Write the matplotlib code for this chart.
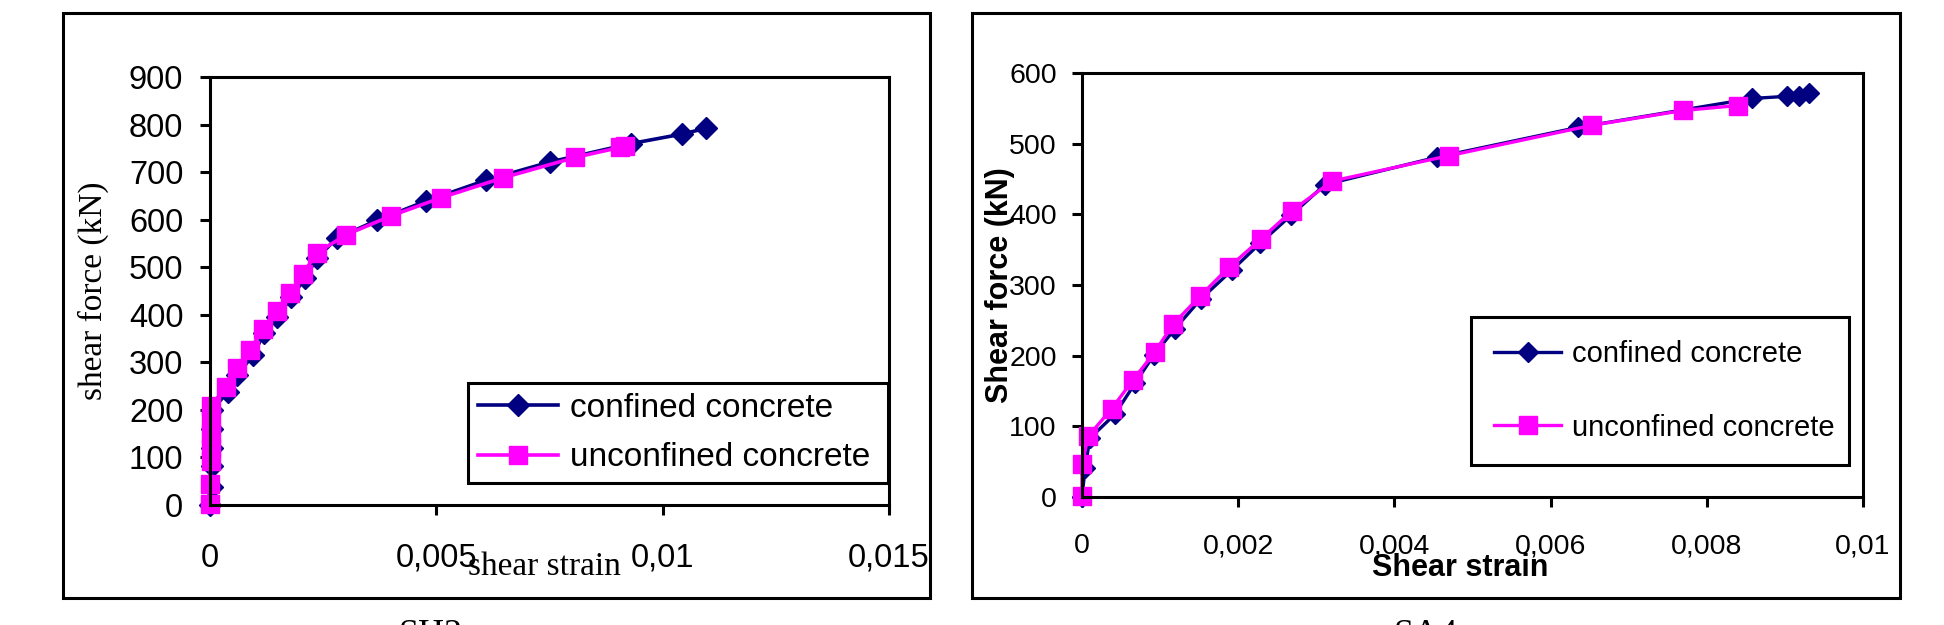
import matplotlib
matplotlib.use('Agg')
import matplotlib.pyplot as plt
from matplotlib.patches import Rectangle

####################################################################################################
# DATA
####################################################################################################

# SH2 - left chart
sh2_conf_strain = [0, 0.00004, 0.00004, 0.00004, 0.00004, 0.00004, 0.0004, 0.0006, 0.00095, 0.0012,
                   0.00148, 0.0018, 0.0021, 0.00236, 0.0028, 0.0037, 0.00477, 0.0061, 0.0075, 0.0093,
                   0.01043, 0.01095]
sh2_conf_force = [0, 38, 82, 120, 160, 200, 238, 273, 315, 362,
                  395, 437, 477, 519, 561, 599, 639, 683, 721, 760,
                  780, 792]
sh2_unconf_strain = [0, 0, 0.00002, 0.00002, 0.00002, 0.00002, 0.00002, 0.00035, 0.0006, 0.00088,
                     0.00117, 0.00148, 0.00177, 0.00205, 0.00236, 0.003, 0.004, 0.0051, 0.00647,
                     0.00807, 0.00906, 0.00917]
sh2_unconf_force = [3, 45, 92, 120, 150, 180, 208, 248, 288, 326,
                    370, 408, 446, 486, 530, 568, 608, 646, 688,
                    731, 752, 755]
sh2_xticks = [0, 0.005, 0.01, 0.015]
sh2_xlabels = ['0', '0,005', '0,01', '0,015']
sh2_yticks = [0, 100, 200, 300, 400, 500, 600, 700, 800, 900]

# SA4 - right chart
sa4_conf_strain = [0, 0.00004, 0.0001, 0.00042, 0.00068, 0.00092, 0.00119, 0.00152, 0.00192, 0.00228,
                   0.00268, 0.00311, 0.00455, 0.00635, 0.00858, 0.00903, 0.00918, 0.00931]
sa4_conf_force = [0, 41, 83, 117, 161, 201, 238, 280, 321, 359,
                  399, 442, 481, 523, 564, 567, 567, 571]
sa4_unconf_strain = [0, 0, 0.00008, 0.00038, 0.00065, 0.00093, 0.00117, 0.00151, 0.00188, 0.00229,
                     0.00269, 0.0032, 0.0047, 0.00653, 0.0077, 0.0084]
sa4_unconf_force = [2, 46, 86, 125, 165, 205, 245, 284, 325, 365,
                    405, 447, 483, 526, 547, 554]
sa4_xticks = [0, 0.002, 0.004, 0.006, 0.008, 0.01]
sa4_xlabels = ['0', '0,002', '0,004', '0,006', '0,008', '0,01']
sa4_yticks = [0, 100, 200, 300, 400, 500, 600]

captions = ['SH2', 'SA4']

####################################################################################################
# FIGURE
####################################################################################################

W, H = 1944, 625
fig = plt.figure(figsize=(W / 100, H / 100), dpi=100)

SANS = 'Liberation Sans'
SERIF = 'Liberation Serif'
NAVY = '#000080'
MAGENTA = '#ff00ff'
LW = 2.2


def px_box(x0, y0, x1, y1):
    # pixel box (top-left origin) -> figure fraction [left, bottom, width, height]
    return [x0 / W, (H - y1) / H, (x1 - x0) / W, (y1 - y0) / H]


# outer frames
for x0, x1 in ((63, 930), (972, 1900)):
    b = px_box(x0, 13, x1, 598)
    fig.patches.append(Rectangle((b[0], b[1]), b[2], b[3], transform=fig.transFigure,
                                 fill=False, edgecolor='black', linewidth=LW))


def style_axes(ax, xticks, xlabels, yticks, fsize, xpad, ypad):
    for s in ax.spines.values():
        s.set_linewidth(LW)
    ax.set_xticks(xticks)
    ax.set_xticklabels(xlabels)
    ax.set_yticks(yticks)
    ax.set_xlim(xticks[0], xticks[-1])
    ax.set_ylim(yticks[0], yticks[-1])
    ax.tick_params(axis='both', direction='out', length=7.2, width=LW, labelsize=fsize)
    ax.tick_params(axis='x', pad=xpad)
    ax.tick_params(axis='y', pad=ypad)
    for t in ax.get_xticklabels() + ax.get_yticklabels():
        t.set_fontfamily(SANS)


def legend(ax, box, fsize, spacing, bpad, hlen):
    b = px_box(*box)
    leg = ax.legend(loc='upper left', bbox_to_anchor=(b[0], b[1], b[2], b[3]),
                    bbox_transform=fig.transFigure, mode='expand', borderaxespad=0,
                    fancybox=False, framealpha=1, edgecolor='black', numpoints=1,
                    prop={'family': SANS, 'size': fsize}, labelspacing=spacing,
                    borderpad=bpad, handlelength=hlen, handletextpad=0.35)
    leg.get_frame().set_linewidth(LW)
    return leg


####################################### SH2 #######################################

ax1 = fig.add_axes(px_box(210, 77, 889, 505))
ax1.plot(sh2_conf_strain, sh2_conf_force, color=NAVY, lw=2.6, marker='D', ms=11,
         mec=NAVY, mfc=NAVY, clip_on=False, label='confined concrete')
ax1.plot(sh2_unconf_strain, sh2_unconf_force, color=MAGENTA, lw=2.6, marker='s', ms=13,
         mec=MAGENTA, mfc=MAGENTA, clip_on=False, label='unconfined concrete')
style_axes(ax1, sh2_xticks, sh2_xlabels, sh2_yticks, 23.5, 20, 12)
ax1.set_ylabel('shear force (kN)', family=SERIF, fontsize=24, va='center')
ax1.yaxis.set_label_coords(-0.172, 0.5)
ax1.set_xlabel('shear strain', family=SERIF, fontsize=24, va='center')
ax1.xaxis.set_label_coords(0.492, -0.145)
legend(ax1, (468, 383, 888, 494), 24, 0.55, 0.3, 2.4)

####################################### SA4 #######################################

ax2 = fig.add_axes(px_box(1082, 73, 1863, 497))
ax2.plot(sa4_conf_strain, sa4_conf_force, color=NAVY, lw=2.4, marker='D', ms=10.5,
         mec=NAVY, mfc=NAVY, clip_on=False, label='confined concrete')
ax2.plot(sa4_unconf_strain, sa4_unconf_force, color=MAGENTA, lw=2.4, marker='s', ms=12.5,
         mec=MAGENTA, mfc=MAGENTA, clip_on=False, label='unconfined concrete')
style_axes(ax2, sa4_xticks, sa4_xlabels, sa4_yticks, 20.5, 19, 11)
ax2.set_ylabel('Shear force (kN)', family=SANS, fontweight='bold', fontsize=22, va='center')
ax2.yaxis.set_label_coords(-0.105, 0.5)
ax2.set_xlabel('Shear strain', family=SANS, fontweight='bold', fontsize=22, va='center')
ax2.xaxis.set_label_coords(0.484, -0.167)
legend(ax2, (1471, 317, 1849, 481), 21, 1.55, 0.8, 2.3)

# captions below the frames (cut off by the page edge)
for cx, txt in zip((431, 1426), captions):
    fig.text(cx / W, 1 - 619 / H, txt, family=SERIF, fontsize=26, ha='center', va='top')

fig.savefig('out.png', dpi=100)
